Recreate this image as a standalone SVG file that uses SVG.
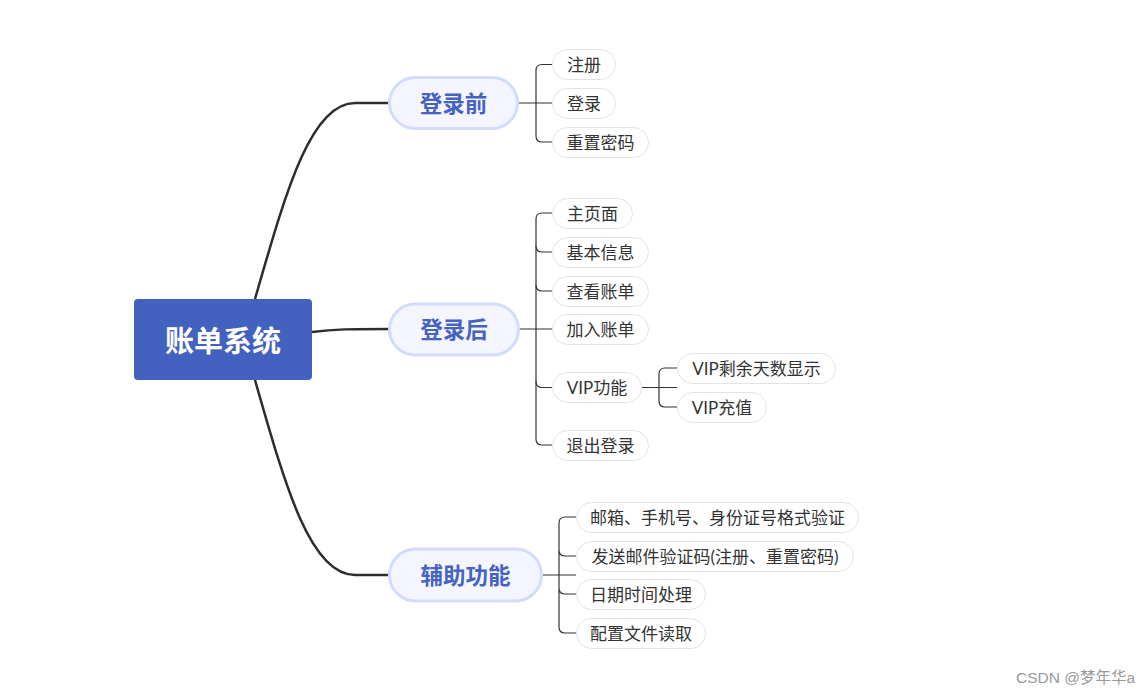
<svg xmlns="http://www.w3.org/2000/svg" width="1147" height="694" viewBox="0 0 1147 694">
<style>
text{font-family:Lato,"Noto Sans CJK SC","Noto Sans",sans-serif;text-anchor:middle;dominant-baseline:central}
.root rect{fill:#4361BF}
.root text{fill:#fff;font-size:29px;font-weight:bold}
.branch rect{fill:#F4F5FF;stroke:#D3DBFF;stroke-width:3}
.branch text{fill:#4563C0;font-size:22.5px;font-weight:bold}
.leaf rect{fill:#fff;stroke:#E3E3E3;stroke-width:1}
.leaf text{fill:#333;font-size:17px}
.main{fill:none;stroke:#2d2d2d;stroke-width:2.5}
.sub{fill:none;stroke:#333;stroke-width:1.2}
.wm{fill:#999;font-size:15.5px;text-anchor:start;font-family:"Liberation Sans","Noto Sans CJK SC",sans-serif}
</style>
<rect width="1147" height="694" fill="#fff"/>
<g id="connectors">
<path class="main" d="M255,299 C285,195 310,103 355,103 H390"/>
<path class="main" d="M312,332 C335,329 350,329 390,329"/>
<path class="main" d="M255,380 C285,485 310,575 355,575 H390"/>
<path class="sub" d="M518,103 H552 M552,64.5 H542 Q536,64.5 536,70.5 V136 Q536,142 542,142 H552"/>
<path class="sub" d="M518,329 H552 M552,213 H542 Q536,213 536,219 V439 Q536,445 542,445 H552"/>
<path class="sub" d="M536,246 Q536,252 542,252 H552 M536,285 Q536,291 542,291 H552 M536,381.5 Q536,387.5 542,387.5 H552"/>
<path class="sub" d="M642,387.5 H677 M677,368 H665 Q659,368 659,374 V401 Q659,407 665,407 H677"/>
<path class="sub" d="M542,575 H576 M576,517 H565 Q559,517 559,523 V627 Q559,633 565,633 H576 M559,550 Q559,556 565,556 H576 M559,588 Q559,594 565,594 H576"/>
</g>
<g id="root" class="root"><rect x="134" y="299" width="178" height="81" rx="4"/><text x="223" y="340">账单系统</text></g>
<g id="b1" class="branch"><rect x="389.5" y="77.5" width="128" height="51" rx="25.5"/><text x="453.5" y="103">登录前</text></g>
<g id="b2" class="branch"><rect x="389.5" y="304" width="129" height="51" rx="25.5"/><text x="454" y="329.5">登录后</text></g>
<g id="b3" class="branch"><rect x="389.5" y="549" width="152" height="52" rx="26"/><text x="465.5" y="575">辅助功能</text></g>
<g id="l1" class="leaf"><rect x="552.5" y="49.5" width="63" height="30" rx="15"/><text x="584" y="64.5">注册</text></g>
<g id="l2" class="leaf"><rect x="552.5" y="88.5" width="63" height="30" rx="15"/><text x="584" y="103.5">登录</text></g>
<g id="l3" class="leaf"><rect x="552.5" y="127.5" width="96" height="30" rx="15"/><text x="600.5" y="142.5">重置密码</text></g>
<g id="l4" class="leaf"><rect x="552.5" y="198.5" width="80" height="30" rx="15"/><text x="592.5" y="213.5">主页面</text></g>
<g id="l5" class="leaf"><rect x="552.5" y="237.5" width="96" height="30" rx="15"/><text x="600.5" y="252.5">基本信息</text></g>
<g id="l6" class="leaf"><rect x="552.5" y="276.5" width="96" height="30" rx="15"/><text x="600.5" y="291.5">查看账单</text></g>
<g id="l7" class="leaf"><rect x="552.5" y="314.5" width="96" height="30" rx="15"/><text x="600.5" y="329.5">加入账单</text></g>
<g id="l8" class="leaf"><rect x="552.5" y="372.5" width="89" height="30" rx="15"/><text x="597" y="387.5">VIP功能</text></g>
<g id="l9" class="leaf"><rect x="552.5" y="430.5" width="96" height="30" rx="15"/><text x="600.5" y="445.5">退出登录</text></g>
<g id="l10" class="leaf"><rect x="677.5" y="353.5" width="158" height="30" rx="15"/><text x="756.5" y="368.5">VIP剩余天数显示</text></g>
<g id="l11" class="leaf"><rect x="677.5" y="392.5" width="89" height="30" rx="15"/><text x="722" y="407.5">VIP充值</text></g>
<g id="l12" class="leaf"><rect x="576.5" y="502.5" width="282" height="30" rx="15"/><text x="717.5" y="517.5">邮箱、手机号、身份证号格式验证</text></g>
<g id="l13" class="leaf"><rect x="576.5" y="541.5" width="277" height="30" rx="15"/><text x="715" y="556.5">发送邮件验证码(注册、重置密码)</text></g>
<g id="l14" class="leaf"><rect x="576.5" y="579.5" width="129" height="30" rx="15"/><text x="641" y="594.5">日期时间处理</text></g>
<g id="l15" class="leaf"><rect x="576.5" y="618.5" width="129" height="30" rx="15"/><text x="641" y="633.5">配置文件读取</text></g>
<text class="wm" x="1016" y="677">CSDN @梦年华a</text>
</svg>
